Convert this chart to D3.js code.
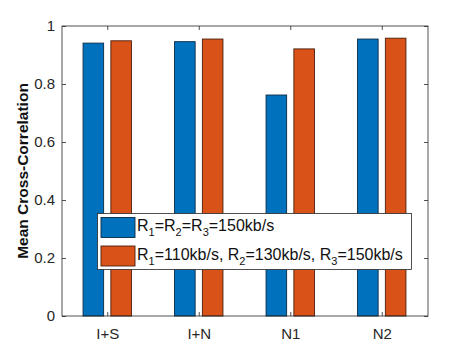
<!DOCTYPE html>
<html><head><meta charset="utf-8">
<script src="https://cdn.jsdelivr.net/npm/d3@7"></script>
<style>body{margin:0;background:#fff;}svg{display:block;font-family:"Liberation Sans",Arial,sans-serif;}</style>
</head><body>
<svg id="c" width="474" height="355"></svg>
<script>
const categories = ["I+S", "I+N", "N1", "N2"];
const seriesA = [0.941, 0.946, 0.762, 0.955];
const seriesB = [0.949, 0.955, 0.921, 0.958];
const yTicks = [0, 0.2, 0.4, 0.6, 0.8, 1];
const seriesNames = ["A", "B"];
const colors = ["#0072BD", "#D95319"];

const svg = d3.select("#c");
const L = 62, R = 428, T = 26, B = 316;
const x = d3.scaleBand().domain(categories).range([L, R]).paddingInner(0).paddingOuter(0);
const sub = d3.scaleBand().domain(seriesNames).range([-24.7, 23.7]).paddingInner(0.26);
const y = d3.scaleLinear().domain([0, 1]).range([B, T]);
const axisCol = "#262626";

// bars
const data = [seriesA, seriesB];
data.forEach((vals, si) => {
  svg.append("g").selectAll("rect").data(vals).join("rect")
    .attr("x", (d, i) => x(categories[i]) + x.bandwidth() / 2 + sub(seriesNames[si]))
    .attr("y", d => y(d))
    .attr("width", sub.bandwidth())
    .attr("height", d => y(0) - y(d))
    .attr("fill", colors[si])
    .attr("stroke", si === 0 ? "#0b2a45" : "#4a1e0c")
    .attr("stroke-width", 0.9);
});

// axes box
svg.append("rect").attr("x", L).attr("y", T).attr("width", R - L).attr("height", B - T)
  .attr("fill", "none").attr("stroke", axisCol).attr("stroke-width", 0.8);

const gl = svg.append("g").attr("transform", `translate(${L},0)`)
  .call(d3.axisLeft(y).tickValues(yTicks).tickSize(-4).tickPadding(7).tickFormat(d => d === 0 || d === 1 ? d3.format("d")(d) : d3.format(".1f")(d)));
const gr = svg.append("g").attr("transform", `translate(${R},0)`)
  .call(d3.axisRight(y).tickValues(yTicks).tickSize(-4).tickFormat(""));
const gb = svg.append("g").attr("transform", `translate(0,${B})`)
  .call(d3.axisBottom(x).tickSize(-4).tickPadding(12));
const gt = svg.append("g").attr("transform", `translate(0,${T})`)
  .call(d3.axisTop(x).tickSize(-4).tickFormat(""));
[gl, gr, gb, gt].forEach(g => {
  g.select(".domain").remove();
  g.selectAll("line").attr("stroke", axisCol).attr("stroke-width", 0.8);
  g.selectAll("text").attr("fill", axisCol).style("font-size", "15px").style("font-family", '"Liberation Sans",Arial,sans-serif');
});

// y label
svg.append("text").attr("transform", `translate(22,${(T + B) / 2}) rotate(-90)`)
  .attr("text-anchor", "middle").attr("dominant-baseline", "central")
  .attr("fill", "#111").style("font-size", "15.5px").style("font-weight", "bold")
  .text("Mean Cross-Correlation");

// legend
const lg = svg.append("g");
lg.append("rect").attr("x", 97.5).attr("y", 213.5).attr("width", 314).attr("height", 56)
  .attr("fill", "#fff").attr("stroke", axisCol).attr("stroke-width", 0.8);
const legendItems = [
  {c: colors[0], y: 217.5, parts: [["R", ""], ["1", "sub"], ["=R", ""], ["2", "sub"], ["=R", ""], ["3", "sub"], ["=150kb/s", ""]]},
  {c: colors[1], y: 246, parts: [["R", ""], ["1", "sub"], ["=110kb/s, R", ""], ["2", "sub"], ["=130kb/s, R", ""], ["3", "sub"], ["=150kb/s", ""]]}
];
legendItems.forEach((it, i) => {
  lg.append("rect").attr("x", 101).attr("y", it.y).attr("width", 34).attr("height", 20)
    .attr("fill", it.c).attr("stroke", i === 0 ? "#0b2a45" : "#4a1e0c").attr("stroke-width", 0.9);
  const t = lg.append("text").attr("x", 137).attr("y", it.y + 13.5).attr("fill", "#111").style("font-size", "16px");
  it.parts.forEach((p, j) => {
    const ts = t.append("tspan").text(p[0]);
    if (p[1] === "sub") ts.attr("dy", 5).style("font-size", "11px");
    else if (j > 0 && it.parts[j - 1][1] === "sub") ts.attr("dy", -5);
  });
});
</script>
</body></html>
